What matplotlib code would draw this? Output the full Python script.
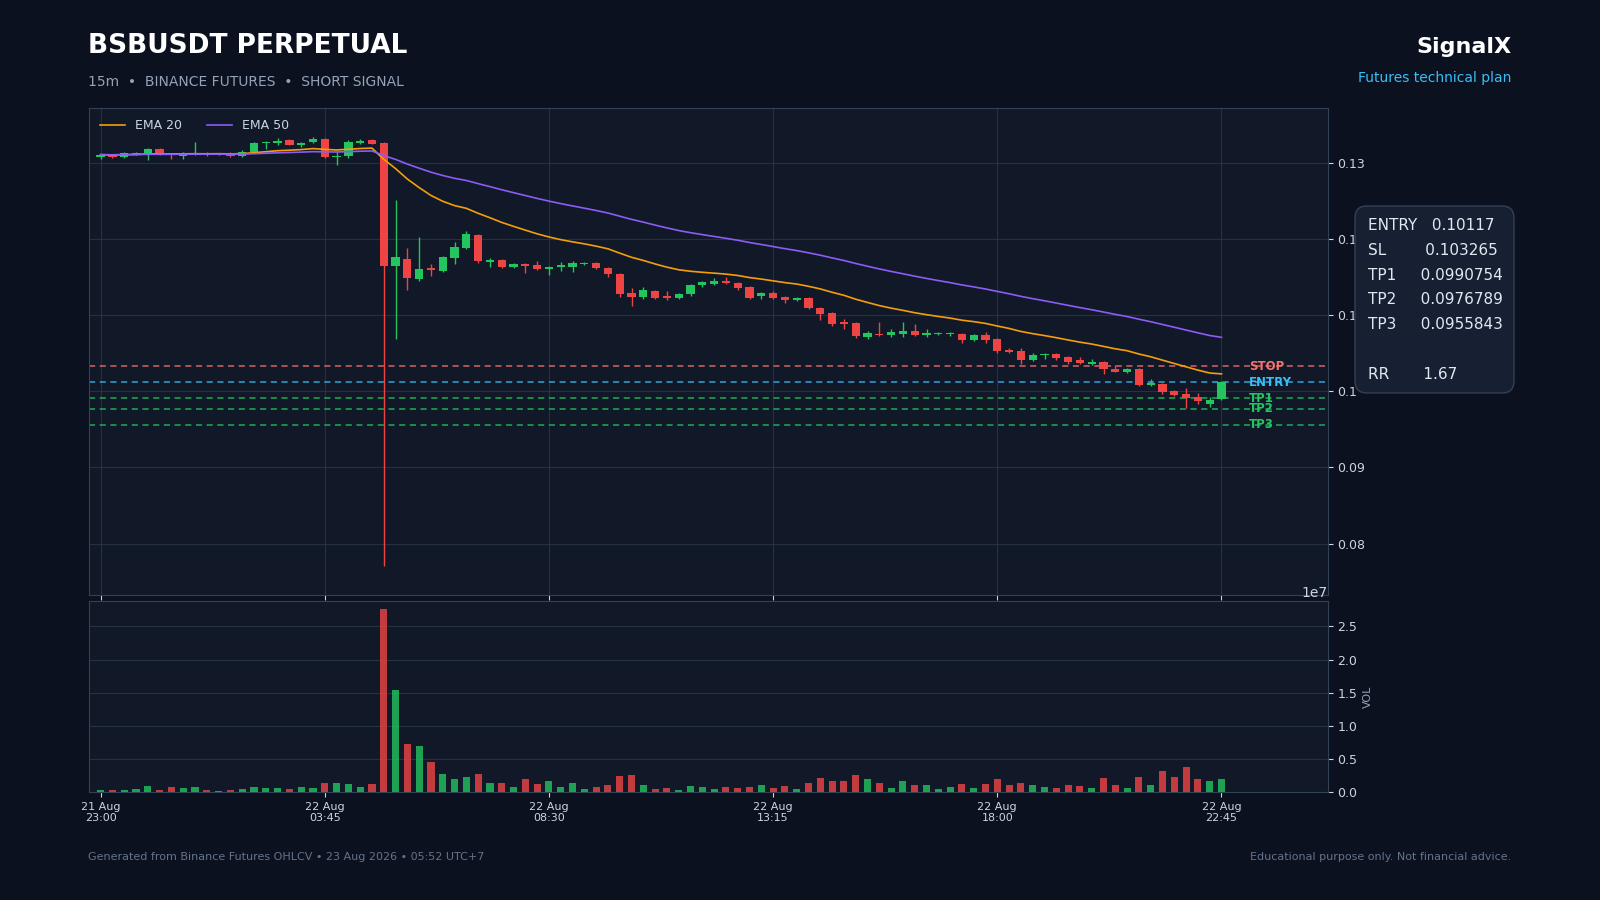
import numpy as np
import pandas as pd
import matplotlib
matplotlib.use("Agg")
import matplotlib.pyplot as plt
from matplotlib.patches import FancyBboxPatch
from matplotlib.ticker import FuncFormatter

# --- dati (BSBUSDT 15m) ---
START = "2026-08-21 23:00"

opens = [0.13080, 0.13107, 0.13080, 0.13121, 0.13134, 0.13188, 0.13121, 0.13094, 0.13121, 0.13134,
         0.13121, 0.13134, 0.13094, 0.13147, 0.13255, 0.13255, 0.13295, 0.13228, 0.13268, 0.13308,
         0.13080, 0.13094, 0.13255, 0.13295, 0.13255, 0.11646, 0.11740, 0.11472, 0.11619, 0.11579,
         0.11753, 0.11887, 0.12048, 0.11700, 0.11727, 0.11633, 0.11673, 0.11659, 0.11606, 0.11633,
         0.11633, 0.11673, 0.11686, 0.11619, 0.11539, 0.11284, 0.11244, 0.11311, 0.11257, 0.11231,
         0.11271, 0.11391, 0.11405, 0.11445, 0.11418, 0.11365, 0.11257, 0.11284, 0.11244, 0.11204,
         0.11231, 0.11096, 0.11029, 0.10909, 0.10895, 0.10707, 0.10748, 0.10734, 0.10748, 0.10788,
         0.10734, 0.10748, 0.10748, 0.10748, 0.10667, 0.10734, 0.10681, 0.10547, 0.10533, 0.10413,
         0.10480, 0.10493, 0.10453, 0.10413, 0.10362, 0.10386, 0.10295, 0.10255, 0.10295, 0.10080,
         0.10094, 0.10000, 0.09960, 0.09920, 0.09839, 0.09893]
highs = [0.13121, 0.13121, 0.13147, 0.13147, 0.13201, 0.13201, 0.13134, 0.13147, 0.13268, 0.13147,
         0.13134, 0.13147, 0.13174, 0.13268, 0.13282, 0.13322, 0.13308, 0.13268, 0.13335, 0.13322,
         0.13161, 0.13295, 0.13308, 0.13308, 0.13268, 0.12517, 0.11887, 0.12021, 0.11673, 0.11780,
         0.11954, 0.12102, 0.12062, 0.11753, 0.11740, 0.11686, 0.11686, 0.11713, 0.11646, 0.11700,
         0.11713, 0.11700, 0.11700, 0.11633, 0.11552, 0.11351, 0.11365, 0.11324, 0.11311, 0.11284,
         0.11405, 0.11445, 0.11485, 0.11499, 0.11432, 0.11378, 0.11298, 0.11311, 0.11257, 0.11244,
         0.11244, 0.11110, 0.11043, 0.10949, 0.10909, 0.10788, 0.10909, 0.10815, 0.10909, 0.10882,
         0.10815, 0.10775, 0.10775, 0.10761, 0.10748, 0.10775, 0.10694, 0.10574, 0.10574, 0.10507,
         0.10507, 0.10507, 0.10466, 0.10453, 0.10426, 0.10399, 0.10349, 0.10308, 0.10308, 0.10161,
         0.10107, 0.10013, 0.10040, 0.09973, 0.09920, 0.10134]
lows = [0.13054, 0.13067, 0.13067, 0.13107, 0.13040, 0.13107, 0.13054, 0.13054, 0.13107, 0.13094,
        0.13107, 0.13080, 0.13080, 0.13134, 0.13188, 0.13228, 0.13228, 0.13214, 0.13255, 0.13067,
        0.12973, 0.13067, 0.13241, 0.13241, 0.07708, 0.10681, 0.11324, 0.11445, 0.11512, 0.11566,
        0.11673, 0.11874, 0.11686, 0.11633, 0.11619, 0.11619, 0.11552, 0.11592, 0.11525, 0.11579,
        0.11566, 0.11659, 0.11606, 0.11499, 0.11244, 0.11123, 0.11217, 0.11217, 0.11204, 0.11217,
        0.11257, 0.11365, 0.11391, 0.11405, 0.11324, 0.11217, 0.11217, 0.11217, 0.11163, 0.11190,
        0.11083, 0.10935, 0.10855, 0.10815, 0.10694, 0.10681, 0.10721, 0.10707, 0.10707, 0.10721,
        0.10707, 0.10734, 0.10721, 0.10640, 0.10654, 0.10640, 0.10507, 0.10507, 0.10362, 0.10399,
        0.10426, 0.10413, 0.10362, 0.10362, 0.10349, 0.10228, 0.10255, 0.10242, 0.10067, 0.10067,
        0.09960, 0.09933, 0.09786, 0.09826, 0.09799, 0.09879]
closes = [0.13107, 0.13080, 0.13134, 0.13134, 0.13188, 0.13121, 0.13107, 0.13134, 0.13134, 0.13107,
          0.13134, 0.13094, 0.13147, 0.13255, 0.13268, 0.13282, 0.13228, 0.13255, 0.13308, 0.13080,
          0.13094, 0.13268, 0.13282, 0.13241, 0.11646, 0.11767, 0.11485, 0.11606, 0.11592, 0.11767,
          0.11901, 0.12062, 0.11713, 0.11727, 0.11633, 0.11673, 0.11646, 0.11606, 0.11633, 0.11659,
          0.11686, 0.11686, 0.11619, 0.11539, 0.11271, 0.11244, 0.11324, 0.11231, 0.11231, 0.11271,
          0.11391, 0.11432, 0.11445, 0.11418, 0.11351, 0.11231, 0.11284, 0.11231, 0.11204, 0.11231,
          0.11096, 0.11016, 0.10882, 0.10882, 0.10721, 0.10761, 0.10734, 0.10775, 0.10788, 0.10734,
          0.10761, 0.10761, 0.10761, 0.10667, 0.10734, 0.10667, 0.10533, 0.10520, 0.10413, 0.10480,
          0.10493, 0.10440, 0.10386, 0.10375, 0.10386, 0.10295, 0.10255, 0.10295, 0.10080, 0.10107,
          0.09987, 0.09946, 0.09906, 0.09866, 0.09879, 0.10117]
# volume in milioni
volumes_m = [0.3, 0.3, 0.3, 0.45, 0.9, 0.3, 0.75, 0.6, 0.75, 0.3,
             0.15, 0.3, 0.45, 0.75, 0.6, 0.6, 0.45, 0.75, 0.6, 1.36,
             1.36, 1.2, 0.75, 1.2, 27.7, 15.45, 7.27, 6.97, 4.55, 2.73,
             1.97, 2.27, 2.73, 1.36, 1.36, 0.75, 1.97, 1.2, 1.67, 0.75,
             1.36, 0.45, 0.75, 1.06, 2.42, 2.58, 1.1, 0.5, 0.6, 0.3,
             0.9, 0.8, 0.5, 0.8, 0.6, 0.8, 1.1, 0.6, 0.9, 0.4,
             1.3, 2.1, 1.6, 1.6, 2.6, 1.9, 1.4, 0.6, 1.7, 1.1,
             1.1, 0.5, 0.8, 1.2, 0.6, 1.2, 1.9, 1.1, 1.4, 1.1,
             0.7, 0.6, 1.1, 0.9, 0.6, 2.1, 1.1, 0.6, 2.2, 1.1,
             3.1, 2.3, 3.7, 1.9, 1.7, 1.9]

# piano di trading
ENTRY = 0.10117
SL = 0.103265
TP1 = 0.0990754
TP2 = 0.0976789
TP3 = 0.0955843
RR = 1.67

# colori
BG = "#0b111e"
PANEL = "#111827"
GRID = "#263041"
SPINE = "#334155"
TEXT = "#cbd5e1"
MUTED = "#94a3b8"
UP = "#22c55e"
DOWN = "#ef4444"


def main():
    o = np.array(opens)
    h = np.array(highs)
    l = np.array(lows)
    c = np.array(closes)
    vol = np.array(volumes_m) * 1e6
    n = len(c)
    x = np.arange(n)
    times = pd.date_range(START, periods=n, freq="15min")

    ema20 = pd.Series(c).ewm(span=20, adjust=False).mean()
    ema50 = pd.Series(c).ewm(span=50, adjust=False).mean()

    fig = plt.figure(figsize=(16, 9), dpi=100, facecolor=BG)
    ax = fig.add_axes([0.0555, 0.339, 0.7743, 0.5408])
    axv = fig.add_axes([0.0555, 0.120, 0.7743, 0.212], sharex=ax)

    for a in (ax, axv):
        a.set_facecolor(PANEL)
        for s in a.spines.values():
            s.set_color(SPINE)
        a.tick_params(colors=TEXT, labelsize=9)
        a.yaxis.tick_right()

    # 1) candele
    up = c >= o
    colors = np.where(up, UP, DOWN)
    ax.vlines(x, l, h, colors=colors, linewidth=1.0, zorder=3)
    body_lo = np.minimum(o, c)
    body_h = np.maximum(np.abs(c - o), 0.00012)
    ax.bar(x, body_h, bottom=body_lo, width=0.7, color=colors, zorder=4)

    # 2) EMA
    ax.plot(x, ema20, color="#f59e0b", lw=1.2, label="EMA 20", zorder=5)
    ax.plot(x, ema50, color="#8b5cf6", lw=1.2, label="EMA 50", zorder=5)

    # 3) livelli
    levels = [
        ("STOP", SL, "#f87171"),
        ("ENTRY", ENTRY, "#38bdf8"),
        ("TP1", TP1, UP),
        ("TP2", TP2, UP),
        ("TP3", TP3, UP),
    ]
    for name, val, col in levels:
        ax.axhline(val, color=col, lw=1.1, ls=(0, (4, 3)), alpha=0.85, zorder=2)
        ax.text(n + 1.3, val, name, color=col, fontsize=8.5, fontweight="bold",
                va="center", ha="left", zorder=6)

    rng = h.max() - l.min()
    ax.set_ylim(l.min() - 0.068 * rng, h.max() + 0.068 * rng)
    ax.set_xlim(-1, n + 8)
    ax.yaxis.set_major_formatter(FuncFormatter(lambda v, _: f"{v:g}"))
    ax.grid(True, color=GRID, lw=0.8)
    ax.set_axisbelow(True)
    ax.tick_params(axis="x", labelbottom=False)

    leg = ax.legend(loc="upper left", ncol=2, frameon=False, fontsize=9)
    for t in leg.get_texts():
        t.set_color(TEXT)

    # 4) volume
    vcolors = np.where(up, UP, DOWN)
    axv.bar(x, vol, width=0.6, color=vcolors, alpha=0.8, zorder=3)
    axv.set_ylim(0, vol.max() * 1.04)
    axv.grid(True, axis="y", color=GRID, lw=0.8)
    axv.set_axisbelow(True)
    axv.yaxis.set_label_position("right")
    axv.set_ylabel("VOL", color=MUTED, fontsize=8)
    axv.yaxis.get_offset_text().set_color(TEXT)
    axv.yaxis.get_offset_text().set_fontsize(10)

    tick_idx = list(range(0, n, 19))
    axv.set_xticks(tick_idx)
    axv.set_xticklabels([times[i].strftime("%d %b\n%H:%M") for i in tick_idx], fontsize=8)

    # 5) titoli e note
    fig.text(0.055, 0.949, "BSBUSDT PERPETUAL", color="white", fontsize=19,
             fontweight="bold", va="center", ha="left")
    fig.text(0.055, 0.909, "15m  •  BINANCE FUTURES  •  SHORT SIGNAL", color=MUTED,
             fontsize=10, va="center", ha="left")
    fig.text(0.9445, 0.948, "SignalX", color="white", fontsize=16,
             fontweight="bold", va="center", ha="right")
    fig.text(0.9445, 0.913, "Futures technical plan", color="#38bdf8",
             fontsize=10, va="center", ha="right")
    fig.text(0.055, 0.048, "Generated from Binance Futures OHLCV • 23 Aug 2026 • 05:52 UTC+7",
             color="#64748b", fontsize=8, va="center", ha="left")
    fig.text(0.9445, 0.048, "Educational purpose only. Not financial advice.",
             color="#64748b", fontsize=8, va="center", ha="right")

    # 6) riquadro con il piano
    box = FancyBboxPatch((13.55, 5.07), 1.59, 1.87,
                         boxstyle="round,pad=0,rounding_size=0.12",
                         transform=fig.dpi_scale_trans, facecolor="#172033",
                         edgecolor=SPINE, lw=1.0, zorder=10)
    fig.patches.append(box)
    lines = [
        f"ENTRY   {ENTRY:g}",
        f"SL        {SL:g}",
        f"TP1     {TP1:g}",
        f"TP2     {TP2:g}",
        f"TP3     {TP3:g}",
        "",
        f"RR       {RR:.2f}",
    ]
    for i, line in enumerate(lines):
        fig.text(0.855, 0.7495 - i * 0.0276, line, color="#e2e8f0", fontsize=11,
                 va="center", ha="left", zorder=11)

    fig.savefig("out.png", dpi=100, facecolor=BG)
    plt.close(fig)


if __name__ == "__main__":
    main()
